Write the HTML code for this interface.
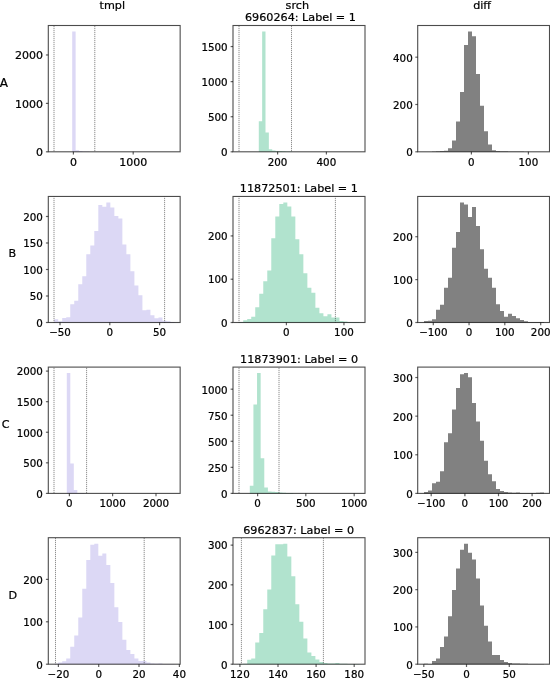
<!DOCTYPE html>
<html lang="en"><head><meta charset="utf-8"><title>Histograms</title>
<style>
html,body{margin:0;padding:0;background:#fff}
body{width:550px;height:682px;overflow:hidden}
svg{display:block;font-size:11.2px}
text{font-family:"DejaVu Sans","Liberation Sans",sans-serif;fill:#000;stroke:#000;stroke-width:.22px}
.sp{fill:none;stroke:#000;stroke-width:1.1;stroke-opacity:.7}
.tk{stroke:#000;stroke-width:1.2;stroke-opacity:.62}
.vb{stroke:#000;stroke-width:.85;stroke-opacity:.11}
.vl{stroke:#000;stroke-width:.85;stroke-dasharray:1 1;stroke-opacity:.45}
</style></head><body>
<svg width="550" height="682" viewBox="0 0 550 682">
<rect width="550" height="682" fill="#fff"/>
<g style="font-size:11px">
<path d="M72.20 151.80 L72.20 31.51 L75.63 31.51 L75.63 150.20 L79.06 150.20 L79.06 151.10 L82.49 151.10 L82.49 151.40 L85.92 151.40 L85.92 151.50 L89.35 151.50 L89.35 151.80 L92.78 151.80 L92.78 151.80 L96.21 151.80 L96.21 151.80 L99.64 151.80 L99.64 151.80 L103.07 151.80 L103.07 151.80 L106.50 151.80 L106.50 151.80 L109.93 151.80 L109.93 151.80 L113.36 151.80 L113.36 151.80 L116.79 151.80 L116.79 151.80 L120.22 151.80 L120.22 151.80 L123.65 151.80 L123.65 151.80 L127.08 151.80 L127.08 151.80 L130.51 151.80 L130.51 151.80 L133.94 151.80 L133.94 151.80 L137.37 151.80 L137.37 151.80 L140.80 151.80 L140.80 151.80 L144.23 151.80 L144.23 151.80 L147.66 151.80 L147.66 151.80 L151.09 151.80 L151.09 151.80 L154.52 151.80 L154.52 151.80 L157.95 151.80 L157.95 151.80 L161.38 151.80 L161.38 151.80 L164.81 151.80 L164.81 151.80 L168.24 151.80 L168.24 151.80 L171.67 151.80 L171.67 151.80 L175.10 151.80 L175.10 151.80Z" fill="#dcd8f5"/>
<line class="vb" x1="54.00" y1="25.50" x2="54.00" y2="151.80"/><line class="vl" x1="54.00" y1="26.00" x2="54.00" y2="151.80"/>
<line class="vb" x1="94.80" y1="25.50" x2="94.80" y2="151.80"/><line class="vl" x1="94.80" y1="26.00" x2="94.80" y2="151.80"/>
<rect class="sp" x="48.30" y="25.50" width="131.85" height="126.30"/>
<line class="tk" x1="73.40" y1="151.80" x2="73.40" y2="154.60"/><text x="73.40" y="165.70" text-anchor="middle">0</text>
<line class="tk" x1="133.20" y1="151.80" x2="133.20" y2="154.60"/><text x="133.20" y="165.70" text-anchor="middle">1000</text>
<line class="tk" x1="45.90" y1="151.80" x2="48.30" y2="151.80"/><text x="42.90" y="156.06" text-anchor="end">0</text>
<line class="tk" x1="45.90" y1="103.39" x2="48.30" y2="103.39"/><text x="42.90" y="107.65" text-anchor="end">1000</text>
<line class="tk" x1="45.90" y1="54.97" x2="48.30" y2="54.97"/><text x="42.90" y="59.24" text-anchor="end">2000</text>
</g>
<g style="font-size:10.3px">
<path d="M258.80 151.80 L258.80 121.33 L262.15 121.33 L262.15 31.51 L265.50 31.51 L265.50 132.55 L268.85 132.55 L268.85 149.19 L272.20 149.19 L272.20 150.60 L275.55 150.60 L275.55 150.90 L278.90 150.90 L278.90 151.10 L282.25 151.10 L282.25 151.30 L285.60 151.30 L285.60 151.40 L288.95 151.40 L288.95 151.50 L292.30 151.50 L292.30 151.80 L295.65 151.80 L295.65 151.80 L299.00 151.80 L299.00 151.80 L302.35 151.80 L302.35 151.80 L305.70 151.80 L305.70 151.80 L309.05 151.80 L309.05 151.80 L312.40 151.80 L312.40 151.80 L315.75 151.80 L315.75 151.80 L319.10 151.80 L319.10 151.80 L322.45 151.80 L322.45 151.80 L325.80 151.80 L325.80 151.80 L329.15 151.80 L329.15 151.80 L332.50 151.80 L332.50 151.80 L335.85 151.80 L335.85 151.80 L339.20 151.80 L339.20 151.80 L342.55 151.80 L342.55 151.80 L345.90 151.80 L345.90 151.80 L349.25 151.80 L349.25 151.80 L352.60 151.80 L352.60 151.80 L355.95 151.80 L355.95 151.80 L359.30 151.80 L359.30 151.80Z" fill="#b1e3ce"/>
<line class="vb" x1="239.00" y1="25.50" x2="239.00" y2="151.80"/><line class="vl" x1="239.00" y1="26.00" x2="239.00" y2="151.80"/>
<line class="vb" x1="291.50" y1="25.50" x2="291.50" y2="151.80"/><line class="vl" x1="291.50" y1="26.00" x2="291.50" y2="151.80"/>
<rect class="sp" x="233.00" y="25.50" width="132.00" height="126.30"/>
<line class="tk" x1="277.60" y1="151.80" x2="277.60" y2="154.60"/><text x="277.60" y="165.70" text-anchor="middle">200</text>
<line class="tk" x1="326.40" y1="151.80" x2="326.40" y2="154.60"/><text x="326.40" y="165.70" text-anchor="middle">400</text>
<line class="tk" x1="230.60" y1="151.80" x2="233.00" y2="151.80"/><text x="227.60" y="155.81" text-anchor="end">0</text>
<line class="tk" x1="230.60" y1="116.72" x2="233.00" y2="116.72"/><text x="227.60" y="120.73" text-anchor="end">500</text>
<line class="tk" x1="230.60" y1="81.63" x2="233.00" y2="81.63"/><text x="227.60" y="85.64" text-anchor="end">1000</text>
<line class="tk" x1="230.60" y1="46.55" x2="233.00" y2="46.55"/><text x="227.60" y="50.56" text-anchor="end">1500</text>
</g>
<g style="font-size:10.3px">
<path d="M424.00 151.80 L424.00 151.80 L428.00 151.80 L428.00 151.80 L432.00 151.80 L432.00 151.50 L436.00 151.50 L436.00 151.30 L440.00 151.30 L440.00 151.10 L444.00 151.10 L444.00 150.80 L448.00 150.80 L448.00 148.19 L452.00 148.19 L452.00 140.57 L456.00 140.57 L456.00 121.53 L460.00 121.53 L460.00 92.06 L464.00 92.06 L464.00 44.95 L468.00 44.95 L468.00 31.51 L472.00 31.51 L472.00 36.33 L476.00 36.33 L476.00 74.02 L480.00 74.02 L480.00 105.69 L484.00 105.69 L484.00 131.35 L488.00 131.35 L488.00 144.58 L492.00 144.58 L492.00 150.20 L496.00 150.20 L496.00 151.10 L500.00 151.10 L500.00 151.30 L504.00 151.30 L504.00 151.30 L508.00 151.30 L508.00 151.40 L512.00 151.40 L512.00 151.40 L516.00 151.40 L516.00 151.50 L520.00 151.50 L520.00 151.50 L524.00 151.50 L524.00 151.80 L528.00 151.80 L528.00 151.80 L532.00 151.80 L532.00 151.80 L536.00 151.80 L536.00 151.80 L540.00 151.80 L540.00 151.80 L544.00 151.80 L544.00 151.80Z" fill="#818181"/>
<rect class="sp" x="417.70" y="25.50" width="131.80" height="126.30"/>
<line class="tk" x1="471.40" y1="151.80" x2="471.40" y2="154.60"/><text x="471.40" y="165.70" text-anchor="middle">0</text>
<line class="tk" x1="528.40" y1="151.80" x2="528.40" y2="154.60"/><text x="528.40" y="165.70" text-anchor="middle">100</text>
<line class="tk" x1="415.30" y1="151.80" x2="417.70" y2="151.80"/><text x="412.70" y="156.16" text-anchor="end">0</text>
<line class="tk" x1="415.30" y1="104.49" x2="417.70" y2="104.49"/><text x="412.70" y="108.85" text-anchor="end">200</text>
<line class="tk" x1="415.30" y1="57.18" x2="417.70" y2="57.18"/><text x="412.70" y="61.53" text-anchor="end">400</text>
</g>
<g style="font-size:10.3px">
<path d="M54.20 322.50 L54.20 319.29 L58.21 319.29 L58.21 321.30 L62.22 321.30 L62.22 317.89 L66.23 317.89 L66.23 317.29 L70.24 317.29 L70.24 304.26 L74.25 304.26 L74.25 300.86 L78.26 300.86 L78.26 284.22 L82.27 284.22 L82.27 276.20 L86.28 276.20 L86.28 254.16 L90.29 254.16 L90.29 245.54 L94.30 245.54 L94.30 231.11 L98.31 231.11 L98.31 205.06 L102.32 205.06 L102.32 206.66 L106.33 206.66 L106.33 202.45 L110.34 202.45 L110.34 207.46 L114.35 207.46 L114.35 216.08 L118.36 216.08 L118.36 218.49 L122.37 218.49 L122.37 244.54 L126.38 244.54 L126.38 254.16 L130.39 254.16 L130.39 271.19 L134.40 271.19 L134.40 285.62 L138.41 285.62 L138.41 295.24 L142.42 295.24 L142.42 310.27 L146.43 310.27 L146.43 309.87 L150.44 309.87 L150.44 315.29 L154.45 315.29 L154.45 318.29 L158.46 318.29 L158.46 317.49 L162.47 317.49 L162.47 320.70 L166.48 320.70 L166.48 321.30 L170.49 321.30 L170.49 321.90 L174.50 321.90 L174.50 322.50Z" fill="#dcd8f5"/>
<line class="vb" x1="54.00" y1="196.45" x2="54.00" y2="322.50"/><line class="vl" x1="54.00" y1="198.00" x2="54.00" y2="322.50"/>
<line class="vb" x1="164.60" y1="196.45" x2="164.60" y2="322.50"/><line class="vl" x1="164.60" y1="198.00" x2="164.60" y2="322.50"/>
<rect class="sp" x="48.30" y="196.45" width="131.85" height="126.05"/>
<line class="tk" x1="60.00" y1="322.50" x2="60.00" y2="325.30"/><text x="60.00" y="336.40" text-anchor="middle">−50</text>
<line class="tk" x1="109.80" y1="322.50" x2="109.80" y2="325.30"/><text x="109.80" y="336.40" text-anchor="middle">0</text>
<line class="tk" x1="159.60" y1="322.50" x2="159.60" y2="325.30"/><text x="159.60" y="336.40" text-anchor="middle">50</text>
<line class="tk" x1="45.90" y1="322.50" x2="48.30" y2="322.50"/><text x="42.90" y="326.86" text-anchor="end">0</text>
<line class="tk" x1="45.90" y1="296.00" x2="48.30" y2="296.00"/><text x="42.90" y="300.35" text-anchor="end">50</text>
<line class="tk" x1="45.90" y1="269.49" x2="48.30" y2="269.49"/><text x="42.90" y="273.85" text-anchor="end">100</text>
<line class="tk" x1="45.90" y1="242.99" x2="48.30" y2="242.99"/><text x="42.90" y="247.35" text-anchor="end">150</text>
<line class="tk" x1="45.90" y1="216.48" x2="48.30" y2="216.48"/><text x="42.90" y="220.84" text-anchor="end">200</text>
</g>
<g style="font-size:10.3px">
<path d="M239.20 322.50 L239.20 321.90 L243.21 321.90 L243.21 320.30 L247.22 320.30 L247.22 318.89 L251.23 318.89 L251.23 316.69 L255.24 316.69 L255.24 307.27 L259.25 307.27 L259.25 293.84 L263.26 293.84 L263.26 281.21 L267.27 281.21 L267.27 270.59 L271.28 270.59 L271.28 238.13 L275.29 238.13 L275.29 216.48 L279.30 216.48 L279.30 204.06 L283.31 204.06 L283.31 202.45 L287.32 202.45 L287.32 206.46 L291.33 206.46 L291.33 216.48 L295.34 216.48 L295.34 239.13 L299.35 239.13 L299.35 254.16 L303.36 254.16 L303.36 273.20 L307.37 273.20 L307.37 287.83 L311.38 287.83 L311.38 292.64 L315.39 292.64 L315.39 307.87 L319.40 307.87 L319.40 313.28 L323.41 313.28 L323.41 316.29 L327.42 316.29 L327.42 314.28 L331.43 314.28 L331.43 317.49 L335.44 317.49 L335.44 317.49 L339.45 317.49 L339.45 321.00 L343.46 321.00 L343.46 321.50 L347.47 321.50 L347.47 321.90 L351.48 321.90 L351.48 322.00 L355.49 322.00 L355.49 321.90 L359.50 321.90 L359.50 322.50Z" fill="#b1e3ce"/>
<line class="vb" x1="239.00" y1="196.45" x2="239.00" y2="322.50"/><line class="vl" x1="239.00" y1="198.00" x2="239.00" y2="322.50"/>
<line class="vb" x1="335.40" y1="196.45" x2="335.40" y2="322.50"/><line class="vl" x1="335.40" y1="198.00" x2="335.40" y2="322.50"/>
<rect class="sp" x="233.00" y="196.45" width="132.00" height="126.05"/>
<line class="tk" x1="286.40" y1="322.50" x2="286.40" y2="325.30"/><text x="286.40" y="336.40" text-anchor="middle">0</text>
<line class="tk" x1="343.95" y1="322.50" x2="343.95" y2="325.30"/><text x="343.95" y="336.40" text-anchor="middle">100</text>
<line class="tk" x1="230.60" y1="322.50" x2="233.00" y2="322.50"/><text x="227.60" y="326.61" text-anchor="end">0</text>
<line class="tk" x1="230.60" y1="279.21" x2="233.00" y2="279.21"/><text x="227.60" y="283.32" text-anchor="end">100</text>
<line class="tk" x1="230.60" y1="235.92" x2="233.00" y2="235.92"/><text x="227.60" y="240.03" text-anchor="end">200</text>
</g>
<g style="font-size:10.3px">
<path d="M424.00 322.50 L424.00 321.10 L428.00 321.10 L428.00 320.70 L432.00 320.70 L432.00 319.29 L436.00 319.29 L436.00 309.87 L440.00 309.87 L440.00 304.66 L444.00 304.66 L444.00 287.83 L448.00 287.83 L448.00 277.81 L452.00 277.81 L452.00 247.75 L456.00 247.75 L456.00 232.11 L460.00 232.11 L460.00 202.45 L464.00 202.45 L464.00 204.46 L468.00 204.46 L468.00 217.08 L472.00 217.08 L472.00 207.06 L476.00 207.06 L476.00 226.10 L480.00 226.10 L480.00 249.15 L484.00 249.15 L484.00 268.79 L488.00 268.79 L488.00 277.81 L492.00 277.81 L492.00 287.83 L496.00 287.83 L496.00 304.26 L500.00 304.26 L500.00 310.88 L504.00 310.88 L504.00 316.69 L508.00 316.69 L508.00 313.68 L512.00 313.68 L512.00 315.89 L516.00 315.89 L516.00 318.29 L520.00 318.29 L520.00 319.89 L524.00 319.89 L524.00 321.30 L528.00 321.30 L528.00 322.00 L532.00 322.00 L532.00 322.00 L536.00 322.00 L536.00 322.00 L540.00 322.00 L540.00 321.90 L544.00 321.90 L544.00 322.50Z" fill="#818181"/>
<rect class="sp" x="417.70" y="196.45" width="131.80" height="126.05"/>
<line class="tk" x1="433.30" y1="322.50" x2="433.30" y2="325.30"/><text x="433.30" y="336.40" text-anchor="middle">−100</text>
<line class="tk" x1="469.05" y1="322.50" x2="469.05" y2="325.30"/><text x="469.05" y="336.40" text-anchor="middle">0</text>
<line class="tk" x1="504.80" y1="322.50" x2="504.80" y2="325.30"/><text x="504.80" y="336.40" text-anchor="middle">100</text>
<line class="tk" x1="540.70" y1="322.50" x2="540.70" y2="325.30"/><text x="540.70" y="336.40" text-anchor="middle">200</text>
<line class="tk" x1="415.30" y1="322.50" x2="417.70" y2="322.50"/><text x="412.70" y="326.86" text-anchor="end">0</text>
<line class="tk" x1="415.30" y1="279.61" x2="417.70" y2="279.61"/><text x="412.70" y="283.97" text-anchor="end">100</text>
<line class="tk" x1="415.30" y1="236.72" x2="417.70" y2="236.72"/><text x="412.70" y="241.08" text-anchor="end">200</text>
</g>
<g style="font-size:10.3px">
<path d="M66.80 493.40 L66.80 373.11 L70.30 373.11 L70.30 463.43 L73.80 463.43 L73.80 490.08 L77.30 490.08 L77.30 492.90 L80.80 492.90 L80.80 493.10 L84.30 493.10 L84.30 493.40 L87.80 493.40 L87.80 493.40 L91.30 493.40 L91.30 493.40 L94.80 493.40 L94.80 493.40 L98.30 493.40 L98.30 493.40 L101.80 493.40 L101.80 493.40 L105.30 493.40 L105.30 493.40 L108.80 493.40 L108.80 493.40 L112.30 493.40 L112.30 493.40 L115.80 493.40 L115.80 493.40 L119.30 493.40 L119.30 493.40 L122.80 493.40 L122.80 493.40 L126.30 493.40 L126.30 493.40 L129.80 493.40 L129.80 493.40 L133.30 493.40 L133.30 493.40 L136.80 493.40 L136.80 493.40 L140.30 493.40 L140.30 493.40 L143.80 493.40 L143.80 493.40 L147.30 493.40 L147.30 493.40 L150.80 493.40 L150.80 493.40 L154.30 493.40 L154.30 493.40 L157.80 493.40 L157.80 493.40 L161.30 493.40 L161.30 493.40 L164.80 493.40 L164.80 493.40 L168.30 493.40 L168.30 493.40 L171.80 493.40 L171.80 493.40Z" fill="#dcd8f5"/>
<line class="vb" x1="54.00" y1="367.10" x2="54.00" y2="493.40"/><line class="vl" x1="54.00" y1="368.00" x2="54.00" y2="493.40"/>
<line class="vb" x1="86.60" y1="367.10" x2="86.60" y2="493.40"/><line class="vl" x1="86.60" y1="368.00" x2="86.60" y2="493.40"/>
<rect class="sp" x="48.30" y="367.10" width="131.85" height="126.30"/>
<line class="tk" x1="69.40" y1="493.40" x2="69.40" y2="496.20"/><text x="69.40" y="507.30" text-anchor="middle">0</text>
<line class="tk" x1="112.60" y1="493.40" x2="112.60" y2="496.20"/><text x="112.60" y="507.30" text-anchor="middle">1000</text>
<line class="tk" x1="156.00" y1="493.40" x2="156.00" y2="496.20"/><text x="156.00" y="507.30" text-anchor="middle">2000</text>
<line class="tk" x1="45.90" y1="493.40" x2="48.30" y2="493.40"/><text x="42.90" y="497.76" text-anchor="end">0</text>
<line class="tk" x1="45.90" y1="462.83" x2="48.30" y2="462.83"/><text x="42.90" y="467.19" text-anchor="end">500</text>
<line class="tk" x1="45.90" y1="432.25" x2="48.30" y2="432.25"/><text x="42.90" y="436.61" text-anchor="end">1000</text>
<line class="tk" x1="45.90" y1="401.68" x2="48.30" y2="401.68"/><text x="42.90" y="406.04" text-anchor="end">1500</text>
<line class="tk" x1="45.90" y1="371.10" x2="48.30" y2="371.10"/><text x="42.90" y="375.46" text-anchor="end">2000</text>
</g>
<g style="font-size:10.3px">
<path d="M249.80 493.40 L249.80 485.77 L253.42 485.77 L253.42 404.44 L257.04 404.44 L257.04 373.11 L260.66 373.11 L260.66 458.26 L264.28 458.26 L264.28 487.38 L267.90 487.38 L267.90 491.40 L271.52 491.40 L271.52 491.80 L275.14 491.80 L275.14 492.00 L278.76 492.00 L278.76 492.40 L282.38 492.40 L282.38 492.80 L286.00 492.80 L286.00 493.00 L289.62 493.00 L289.62 493.10 L293.24 493.10 L293.24 493.40 L296.86 493.40 L296.86 493.40 L300.48 493.40 L300.48 493.40 L304.10 493.40 L304.10 493.40 L307.72 493.40 L307.72 493.40 L311.34 493.40 L311.34 493.40 L314.96 493.40 L314.96 493.40 L318.58 493.40 L318.58 493.40 L322.20 493.40 L322.20 493.40 L325.82 493.40 L325.82 493.40 L329.44 493.40 L329.44 493.40 L333.06 493.40 L333.06 493.40 L336.68 493.40 L336.68 493.40 L340.30 493.40 L340.30 493.40 L343.92 493.40 L343.92 493.40 L347.54 493.40 L347.54 493.40 L351.16 493.40 L351.16 493.40 L354.78 493.40 L354.78 493.40 L358.40 493.40 L358.40 493.40Z" fill="#b1e3ce"/>
<line class="vb" x1="239.00" y1="367.10" x2="239.00" y2="493.40"/><line class="vl" x1="239.00" y1="368.00" x2="239.00" y2="493.40"/>
<line class="vb" x1="279.00" y1="367.10" x2="279.00" y2="493.40"/><line class="vl" x1="279.00" y1="368.00" x2="279.00" y2="493.40"/>
<rect class="sp" x="233.00" y="367.10" width="132.00" height="126.30"/>
<line class="tk" x1="257.60" y1="493.40" x2="257.60" y2="496.20"/><text x="257.60" y="507.30" text-anchor="middle">0</text>
<line class="tk" x1="305.80" y1="493.40" x2="305.80" y2="496.20"/><text x="305.80" y="507.30" text-anchor="middle">500</text>
<line class="tk" x1="354.20" y1="493.40" x2="354.20" y2="496.20"/><text x="354.20" y="507.30" text-anchor="middle">1000</text>
<line class="tk" x1="230.60" y1="493.40" x2="233.00" y2="493.40"/><text x="227.60" y="497.91" text-anchor="end">0</text>
<line class="tk" x1="230.60" y1="467.34" x2="233.00" y2="467.34"/><text x="227.60" y="471.85" text-anchor="end">250</text>
<line class="tk" x1="230.60" y1="441.29" x2="233.00" y2="441.29"/><text x="227.60" y="445.80" text-anchor="end">500</text>
<line class="tk" x1="230.60" y1="415.23" x2="233.00" y2="415.23"/><text x="227.60" y="419.74" text-anchor="end">750</text>
<line class="tk" x1="230.60" y1="389.18" x2="233.00" y2="389.18"/><text x="227.60" y="393.69" text-anchor="end">1000</text>
</g>
<g style="font-size:10.3px">
<path d="M424.00 493.40 L424.00 492.00 L428.00 492.00 L428.00 490.39 L432.00 490.39 L432.00 483.36 L436.00 483.36 L436.00 481.75 L440.00 481.75 L440.00 471.31 L444.00 471.31 L444.00 442.19 L448.00 442.19 L448.00 433.16 L452.00 433.16 L452.00 409.46 L456.00 409.46 L456.00 387.97 L460.00 387.97 L460.00 374.32 L464.00 374.32 L464.00 373.11 L468.00 373.11 L468.00 377.33 L472.00 377.33 L472.00 403.04 L476.00 403.04 L476.00 421.51 L480.00 421.51 L480.00 440.79 L484.00 440.79 L484.00 460.87 L488.00 460.87 L488.00 474.32 L492.00 474.32 L492.00 481.35 L496.00 481.35 L496.00 488.98 L500.00 488.98 L500.00 490.99 L504.00 490.99 L504.00 492.00 L508.00 492.00 L508.00 492.60 L512.00 492.60 L512.00 492.80 L516.00 492.80 L516.00 492.60 L520.00 492.60 L520.00 493.00 L524.00 493.00 L524.00 493.10 L528.00 493.10 L528.00 493.10 L532.00 493.10 L532.00 493.10 L536.00 493.10 L536.00 492.80 L540.00 492.80 L540.00 492.60 L544.00 492.60 L544.00 493.40Z" fill="#818181"/>
<rect class="sp" x="417.70" y="367.10" width="131.80" height="126.30"/>
<line class="tk" x1="431.20" y1="493.40" x2="431.20" y2="496.20"/><text x="431.20" y="507.30" text-anchor="middle">−100</text>
<line class="tk" x1="464.90" y1="493.40" x2="464.90" y2="496.20"/><text x="464.90" y="507.30" text-anchor="middle">0</text>
<line class="tk" x1="498.50" y1="493.40" x2="498.50" y2="496.20"/><text x="498.50" y="507.30" text-anchor="middle">100</text>
<line class="tk" x1="532.10" y1="493.40" x2="532.10" y2="496.20"/><text x="532.10" y="507.30" text-anchor="middle">200</text>
<line class="tk" x1="415.30" y1="493.40" x2="417.70" y2="493.40"/><text x="412.70" y="497.76" text-anchor="end">0</text>
<line class="tk" x1="415.30" y1="454.77" x2="417.70" y2="454.77"/><text x="412.70" y="459.13" text-anchor="end">100</text>
<line class="tk" x1="415.30" y1="416.15" x2="417.70" y2="416.15"/><text x="412.70" y="420.51" text-anchor="end">200</text>
<line class="tk" x1="415.30" y1="377.52" x2="417.70" y2="377.52"/><text x="412.70" y="381.88" text-anchor="end">300</text>
</g>
<g style="font-size:10.3px">
<path d="M54.20 664.20 L54.20 663.80 L58.21 663.80 L58.21 662.60 L62.22 662.60 L62.22 661.18 L66.23 661.18 L66.23 658.56 L70.24 658.56 L70.24 646.87 L74.25 646.87 L74.25 635.39 L78.26 635.39 L78.26 617.46 L82.27 617.46 L82.27 588.85 L86.28 588.85 L86.28 560.04 L90.29 560.04 L90.29 544.73 L94.30 544.73 L94.30 543.72 L98.31 543.72 L98.31 555.81 L102.32 555.81 L102.32 553.39 L106.33 553.39 L106.33 565.08 L110.34 565.08 L110.34 583.01 L114.35 583.01 L114.35 607.19 L118.36 607.19 L118.36 621.89 L122.37 621.89 L122.37 639.82 L126.38 639.82 L126.38 649.90 L130.39 649.90 L130.39 653.93 L134.40 653.93 L134.40 658.56 L138.41 658.56 L138.41 660.98 L142.42 660.98 L142.42 660.98 L146.43 660.98 L146.43 662.60 L150.44 662.60 L150.44 663.40 L154.45 663.40 L154.45 663.80 L158.46 663.80 L158.46 663.40 L162.47 663.40 L162.47 663.90 L166.48 663.90 L166.48 664.00 L170.49 664.00 L170.49 664.00 L174.50 664.00 L174.50 664.20Z" fill="#dcd8f5"/>
<line class="vb" x1="55.50" y1="537.70" x2="55.50" y2="664.20"/><line class="vl" x1="55.50" y1="538.00" x2="55.50" y2="664.20"/>
<line class="vb" x1="144.20" y1="537.70" x2="144.20" y2="664.20"/><line class="vl" x1="144.20" y1="538.00" x2="144.20" y2="664.20"/>
<rect class="sp" x="48.30" y="537.70" width="131.85" height="126.50"/>
<line class="tk" x1="58.40" y1="664.20" x2="58.40" y2="667.00"/><text x="58.40" y="678.10" text-anchor="middle">−20</text>
<line class="tk" x1="98.70" y1="664.20" x2="98.70" y2="667.00"/><text x="98.70" y="678.10" text-anchor="middle">0</text>
<line class="tk" x1="139.00" y1="664.20" x2="139.00" y2="667.00"/><text x="139.00" y="678.10" text-anchor="middle">20</text>
<line class="tk" x1="179.40" y1="664.20" x2="179.40" y2="667.00"/><text x="179.40" y="678.10" text-anchor="middle">40</text>
<line class="tk" x1="45.90" y1="664.20" x2="48.30" y2="664.20"/><text x="42.90" y="668.61" text-anchor="end">0</text>
<line class="tk" x1="45.90" y1="621.79" x2="48.30" y2="621.79"/><text x="42.90" y="626.20" text-anchor="end">100</text>
<line class="tk" x1="45.90" y1="579.38" x2="48.30" y2="579.38"/><text x="42.90" y="584.29" text-anchor="end">200</text>
</g>
<g style="font-size:10.3px">
<path d="M239.20 664.20 L239.20 664.00 L243.21 664.00 L243.21 663.80 L247.22 663.80 L247.22 659.77 L251.23 659.77 L251.23 658.56 L255.24 658.56 L255.24 642.44 L259.25 642.44 L259.25 632.97 L263.26 632.97 L263.26 609.20 L267.27 609.20 L267.27 589.46 L271.28 589.46 L271.28 555.41 L275.29 555.41 L275.29 544.13 L279.30 544.13 L279.30 544.13 L283.31 544.13 L283.31 543.72 L287.32 543.72 L287.32 556.42 L291.33 556.42 L291.33 576.36 L295.34 576.36 L295.34 604.16 L299.35 604.16 L299.35 621.69 L303.36 621.69 L303.36 638.41 L307.37 638.41 L307.37 652.52 L311.38 652.52 L311.38 655.94 L315.39 655.94 L315.39 659.57 L319.40 659.57 L319.40 661.98 L323.41 661.98 L323.41 663.00 L327.42 663.00 L327.42 663.40 L331.43 663.40 L331.43 663.60 L335.44 663.60 L335.44 663.00 L339.45 663.00 L339.45 663.80 L343.46 663.80 L343.46 663.80 L347.47 663.80 L347.47 663.90 L351.48 663.90 L351.48 664.00 L355.49 664.00 L355.49 664.00 L359.50 664.00 L359.50 664.20Z" fill="#b1e3ce"/>
<line class="vb" x1="241.40" y1="537.70" x2="241.40" y2="664.20"/><line class="vl" x1="241.40" y1="538.00" x2="241.40" y2="664.20"/>
<line class="vb" x1="323.40" y1="537.70" x2="323.40" y2="664.20"/><line class="vl" x1="323.40" y1="538.00" x2="323.40" y2="664.20"/>
<rect class="sp" x="233.00" y="537.70" width="132.00" height="126.50"/>
<line class="tk" x1="239.90" y1="664.20" x2="239.90" y2="667.00"/><text x="239.90" y="678.10" text-anchor="middle">120</text>
<line class="tk" x1="278.00" y1="664.20" x2="278.00" y2="667.00"/><text x="278.00" y="678.10" text-anchor="middle">140</text>
<line class="tk" x1="316.10" y1="664.20" x2="316.10" y2="667.00"/><text x="316.10" y="678.10" text-anchor="middle">160</text>
<line class="tk" x1="354.20" y1="664.20" x2="354.20" y2="667.00"/><text x="354.20" y="678.10" text-anchor="middle">180</text>
<line class="tk" x1="230.60" y1="664.20" x2="233.00" y2="664.20"/><text x="227.60" y="668.56" text-anchor="end">0</text>
<line class="tk" x1="230.60" y1="624.51" x2="233.00" y2="624.51"/><text x="227.60" y="628.87" text-anchor="end">100</text>
<line class="tk" x1="230.60" y1="584.82" x2="233.00" y2="584.82"/><text x="227.60" y="589.18" text-anchor="end">200</text>
<line class="tk" x1="230.60" y1="545.13" x2="233.00" y2="545.13"/><text x="227.60" y="549.49" text-anchor="end">300</text>
</g>
<g style="font-size:10.3px">
<path d="M424.00 664.20 L424.00 663.80 L428.00 663.80 L428.00 664.00 L432.00 664.00 L432.00 660.98 L436.00 660.98 L436.00 658.56 L440.00 658.56 L440.00 647.08 L444.00 647.08 L444.00 636.40 L448.00 636.40 L448.00 616.25 L452.00 616.25 L452.00 590.06 L456.00 590.06 L456.00 568.50 L460.00 568.50 L460.00 549.77 L464.00 549.77 L464.00 543.72 L468.00 543.72 L468.00 552.79 L472.00 552.79 L472.00 559.44 L476.00 559.44 L476.00 578.58 L480.00 578.58 L480.00 605.57 L484.00 605.57 L484.00 625.72 L488.00 625.72 L488.00 641.43 L492.00 641.43 L492.00 654.93 L496.00 654.93 L496.00 654.93 L500.00 654.93 L500.00 659.97 L504.00 659.97 L504.00 661.98 L508.00 661.98 L508.00 663.00 L512.00 663.00 L512.00 663.40 L516.00 663.40 L516.00 663.60 L520.00 663.60 L520.00 663.70 L524.00 663.70 L524.00 663.80 L528.00 663.80 L528.00 663.90 L532.00 663.90 L532.00 663.90 L536.00 663.90 L536.00 664.00 L540.00 664.00 L540.00 664.00 L544.00 664.00 L544.00 664.20Z" fill="#818181"/>
<rect class="sp" x="417.70" y="537.70" width="131.80" height="126.50"/>
<line class="tk" x1="423.80" y1="664.20" x2="423.80" y2="667.00"/><text x="423.80" y="678.10" text-anchor="middle">−50</text>
<line class="tk" x1="466.50" y1="664.20" x2="466.50" y2="667.00"/><text x="466.50" y="678.10" text-anchor="middle">0</text>
<line class="tk" x1="509.30" y1="664.20" x2="509.30" y2="667.00"/><text x="509.30" y="678.10" text-anchor="middle">50</text>
<line class="tk" x1="415.30" y1="664.20" x2="417.70" y2="664.20"/><text x="412.70" y="668.56" text-anchor="end">0</text>
<line class="tk" x1="415.30" y1="626.93" x2="417.70" y2="626.93"/><text x="412.70" y="631.29" text-anchor="end">100</text>
<line class="tk" x1="415.30" y1="589.66" x2="417.70" y2="589.66"/><text x="412.70" y="594.02" text-anchor="end">200</text>
<line class="tk" x1="415.30" y1="552.39" x2="417.70" y2="552.39"/><text x="412.70" y="556.75" text-anchor="end">300</text>
</g>
<text x="112.30" y="8.80" text-anchor="middle">tmpl</text>
<text x="297.30" y="8.70" text-anchor="middle">srch</text>
<text x="482.10" y="8.80" text-anchor="middle">diff</text>
<text x="300.45" y="21.20" text-anchor="middle">6960264: Label = 1</text>
<text x="298.90" y="191.60" text-anchor="middle">11872501: Label = 1</text>
<text x="299.15" y="362.50" text-anchor="middle">11873901: Label = 0</text>
<text x="298.70" y="533.60" text-anchor="middle">6962837: Label = 0</text>
<text x="-0.15" y="86.60" style="font-size:12px">A</text>
<text x="8.50" y="257.20" style="font-size:11.2px">B</text>
<text x="1.80" y="427.90" style="font-size:11.2px">C</text>
<text x="8.40" y="598.60" style="font-size:11.2px">D</text>
</svg>
</body></html>
